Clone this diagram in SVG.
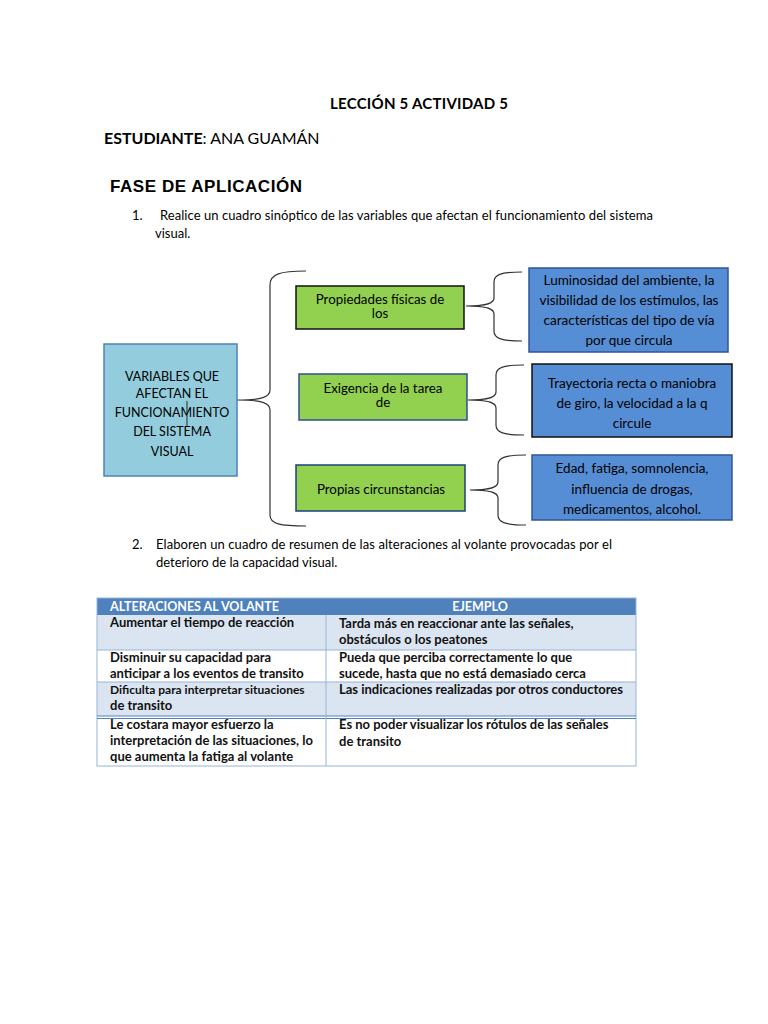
<svg xmlns="http://www.w3.org/2000/svg" width="768" height="1024" viewBox="0 0 768 1024">
<style>
.c{font-family:Lato,"Open Sans","Liberation Sans",sans-serif;fill:#000}
.b{font-weight:bold}
.m{text-anchor:middle}
.brace{fill:none;stroke:#333;stroke-width:1.2}
.green{fill:#92D050;stroke-width:1.5}
.blue{fill:#558ED5;stroke-width:1.5}
.t{font-family:Lato,"Open Sans","Liberation Sans",sans-serif;font-size:13px;font-weight:bold;fill:#111}
.grid{stroke:#95B3D7;stroke-width:1;fill:none}
</style>
<rect width="768" height="1024" fill="#fff"/>
<text class="c b" x="330" y="109" font-size="15" textLength="178">LECCIÓN 5 ACTIVIDAD 5</text>
<text class="c" x="104" y="144" font-size="16"><tspan class="b">ESTUDIANTE</tspan>: ANA GUAMÁN</text>
<text x="110" y="192" font-family="'Liberation Sans',Arial,sans-serif" font-weight="bold" font-size="17" textLength="192">FASE DE APLICACIÓN</text>
<text class="c" x="132" y="220" font-size="13">1.</text>
<text class="c" x="160" y="220" font-size="13" textLength="493">Realice un cuadro sinóptico de las variables que afectan el funcionamiento del sistema</text>
<text class="c" x="155" y="238" font-size="13">visual.</text>

<g id="connectors">
<path class="brace" d="M306,271 C280,271 270,274 270,285 L270,390 C270,397 262,400 237,400 C262,400 270,403 270,410 L270,515 C270,524 280,526 306,526"/>
<path class="brace" d="M522,272 C500,272 494,275 494,282 L494,298 C494,303 488,306 466,306 C488,306 494,309 494,314 L494,331 C494,338 500,341 522,341"/>
<path class="brace" d="M524,365 C502,365 496,368 496,375 L496,392 C496,397 490,400 468,400 C490,400 496,403 496,408 L496,425 C496,432 502,435 524,435"/>
<path class="brace" d="M526,455 C504,455 498,458 498,465 L498,482 C498,487 492,490 470,490 C492,490 498,493 498,498 L498,515 C498,522 504,525 526,525"/>
</g>

<g id="main">
<rect x="104" y="344" width="133" height="132" fill="#93CDDD" stroke="#4F81BD" stroke-width="1.5"/>
<text class="c m" x="172" font-size="12.5"><tspan x="172" y="381">VARIABLES QUE</tspan><tspan x="172" y="398">AFECTAN EL</tspan><tspan x="172" y="417">FUNCIONAMIENTO</tspan><tspan x="172" y="436">DEL SISTEMA</tspan><tspan x="172" y="456">VISUAL</tspan></text>
<line x1="187" y1="401" x2="187" y2="426" stroke="#000" stroke-width="0.8"/>
</g>

<g id="g1">
<rect class="green" x="296" y="286" width="168" height="43" stroke="#111"/>
<text class="c m" font-size="13.3"><tspan x="380" y="304">Propiedades físicas de</tspan><tspan x="380" y="318">los</tspan></text>
</g>
<g id="g2">
<rect class="green" x="299" y="374" width="168" height="46" stroke="#2F4F8F"/>
<text class="c m" font-size="13.3"><tspan x="383" y="393">Exigencia de la tarea</tspan><tspan x="383" y="407">de</tspan></text>
</g>
<g id="g3">
<rect class="green" x="296" y="465" width="169" height="46" stroke="#1F3F7F"/>
<text class="c m" x="381" y="494" font-size="13.3">Propias circunstancias</text>
</g>

<g id="b1">
<rect class="blue" x="529" y="268" width="199" height="84" stroke="#2F5597"/>
<text class="c m" font-size="13.5"><tspan x="629" y="285">Luminosidad del ambiente, la</tspan><tspan x="629" y="305">visibilidad de los estímulos, las</tspan><tspan x="629" y="325">características del tipo de vía</tspan><tspan x="629" y="345">por que circula</tspan></text>
</g>
<g id="b2">
<rect class="blue" x="532" y="364" width="200" height="73" stroke="#111"/>
<text class="c m" font-size="13.5"><tspan x="632" y="388">Trayectoria recta o maniobra</tspan><tspan x="632" y="408">de giro, la velocidad a la q</tspan><tspan x="632" y="428">circule</tspan></text>
</g>
<g id="b3">
<rect class="blue" x="532" y="455" width="200" height="65" stroke="#2F5597"/>
<text class="c m" font-size="13.5"><tspan x="632" y="473">Edad, fatiga, somnolencia,</tspan><tspan x="632" y="494">influencia de drogas,</tspan><tspan x="632" y="514">medicamentos, alcohol.</tspan></text>
</g>

<text class="c" x="132" y="549" font-size="13">2.</text>
<text class="c" x="156" y="549" font-size="13" textLength="456">Elaboren un cuadro de resumen de las alteraciones al volante provocadas por el</text>
<text class="c" x="156" y="567" font-size="13">deterioro de la capacidad visual.</text>

<g id="table">
<rect x="97" y="598" width="539" height="17" fill="#4F81BD"/>
<rect x="97" y="615" width="539" height="35" fill="#DBE5F1"/>
<rect x="97" y="682" width="539" height="34" fill="#DBE5F1"/>
<rect class="grid" x="97" y="598" width="539" height="168"/>
<line class="grid" x1="97" y1="650" x2="636" y2="650"/>
<line class="grid" x1="97" y1="682" x2="636" y2="682"/>
<line x1="97" y1="716" x2="636" y2="716" stroke="#4F81BD" stroke-width="1"/>
<line x1="97" y1="718.5" x2="636" y2="718.5" stroke="#4F81BD" stroke-width="1"/>
<line class="grid" x1="326" y1="615" x2="326" y2="766"/>
<text class="t" x="110" y="611" style="fill:#fff;font-size:12.5px">ALTERACIONES AL VOLANTE</text>
<text class="t m" x="480" y="611" style="fill:#fff;font-size:12.5px">EJEMPLO</text>
<text class="t" x="110" y="627">Aumentar el tiempo de reacción</text>
<text class="t"><tspan x="339" y="628">Tarda más en reaccionar ante las señales,</tspan><tspan x="339" y="644">obstáculos o los peatones</tspan></text>
<text class="t"><tspan x="110" y="662">Disminuir su capacidad para</tspan><tspan x="110" y="678">anticipar a los eventos de transito</tspan></text>
<text class="t"><tspan x="339" y="662">Pueda que perciba correctamente lo que</tspan><tspan x="339" y="678">sucede, hasta que no está demasiado cerca</tspan></text>
<text class="t" style="font-size:12px"><tspan x="110" y="694">Dificulta para interpretar situaciones</tspan><tspan x="110" y="710" style="font-size:13px">de transito</tspan></text>
<text class="t" x="339" y="694">Las indicaciones realizadas por otros conductores</text>
<text class="t"><tspan x="110" y="729">Le costara mayor esfuerzo la</tspan><tspan x="110" y="745">interpretación de las situaciones, lo</tspan><tspan x="110" y="761">que aumenta la fatiga al volante</tspan></text>
<text class="t"><tspan x="339" y="729">Es no poder visualizar los rótulos de las señales</tspan><tspan x="339" y="746">de transito</tspan></text>
</g>
</svg>
